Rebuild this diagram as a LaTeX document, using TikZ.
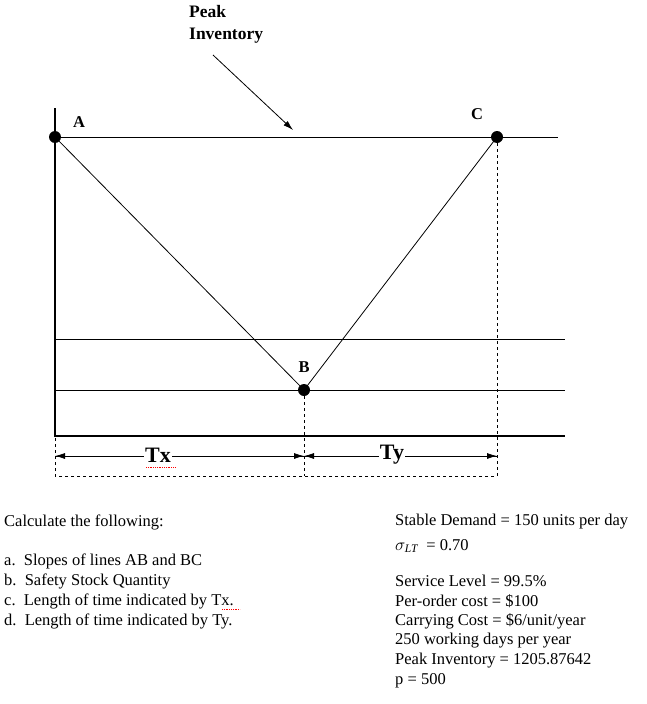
\documentclass[tikz,border=0pt]{standalone}
\usepackage{fontspec}
\setmainfont{Liberation Serif}
\usetikzlibrary{arrows.meta}
\begin{document}
\begin{tikzpicture}[x=1pt,y=-1pt,
  dot/.style={circle,fill=black,inner sep=0pt,minimum size=12pt},
  thin line/.style={line width=0.8pt},
  axis/.style={line width=2.2pt},
  dash line/.style={dashed,line width=0.8pt},
  arr/.style={-{Latex[length=10pt,width=6pt]},line width=0.8pt},
  txt/.style={font=\fontsize{16.5}{19}\selectfont,anchor=west,inner sep=0pt},
  lab/.style={font=\bfseries\fontsize{16.5}{19}\selectfont,inner sep=0pt}]
\useasboundingbox (0,0) rectangle (646,704);
\node[dot] (A) at (55,137) {};
\node[dot] (C) at (497,137) {};
\node[dot] (B) at (304,390) {};
\coordinate (Tend) at (558,137);
\coordinate (ax0) at (55,108);
\coordinate (ax1) at (55,436);
\coordinate (ax2) at (565,436);
\coordinate (h1a) at (55,339); \coordinate (h1b) at (565,339);
\coordinate (h2a) at (55,390); \coordinate (h2b) at (565,390);
\coordinate (dA) at (55,476); \coordinate (dB) at (304,476); \coordinate (dC) at (497,476);
\draw[axis] (ax0) -- (ax1) -- (ax2);
\draw[thin line] (A.center) -- (Tend);
\draw[thin line] (h1a) -- (h1b);
\draw[thin line] (h2a) -- (h2b);
\draw[thin line] (A.center) -- (B.center) -- (C.center);
\draw[dash line] (C.center) -- (dC) -- (dA) -- (ax1);
\draw[dash line] (B.center) -- (dB);
\node[lab] at (79,122) {A};
\node[lab] at (477,114) {C};
\node[lab] at (304,367) {B};
\node[lab,align=left,anchor=north west,font=\bfseries\fontsize{17.5}{22}\selectfont] (peak) at (189,5) {Peak\\Inventory};
\coordinate (pk0) at (213,55); \coordinate (pk1) at (293,130);
\draw[arr] (pk0) -- (pk1);
\coordinate (t0) at (55,456); \coordinate (t1) at (304,456); \coordinate (t2) at (497,456);
\draw[arr] (t1) -- (t0);
\draw[arr] (t0) -- (t1);
\draw[arr] (t2) -- (t1);
\draw[arr] (t1) -- (t2);
\node[lab,font=\bfseries\fontsize{22}{24}\selectfont,fill=white,inner xsep=1pt] (Tx) at (158,455) {Tx};
\node[lab,font=\bfseries\fontsize{22}{24}\selectfont,fill=white,inner xsep=1pt] (Ty) at (392,455) {Ty};
\draw[red,densely dotted,line width=0.8pt] (146,467) -- (176,467);
\node[txt] (q0) at (4,522) {Calculate the following:};
\node[txt] (qa) at (4,561) {a.\ \ Slopes of lines AB and BC};
\node[txt] (qb) at (4,581) {b.\ \ Safety Stock Quantity};
\node[txt] (qc) at (4,601) {c.\ \ Length of time indicated by Tx.};
\node[txt] (qd) at (4,621) {d.\ \ Length of time indicated by Ty.};
\draw[red,densely dotted,line width=0.8pt] (222,609) -- (240,609);
\node[txt] (r0) at (395,522) {Stable Demand = 150 units per day};
\node[txt] (r1) at (395,546) {$\sigma_{\mathit{LT}}$ \ = 0.70};
\node[txt] (r2) at (395,581) {Service Level = 99.5\%};
\node[txt] (r3) at (395,601) {Per-order cost = \$100};
\node[txt] (r4) at (395,621) {Carrying Cost = \$6/unit/year};
\node[txt] (r5) at (395,641) {250 working days per year};
\node[txt] (r6) at (395,661) {Peak Inventory = 1205.87642};
\node[txt] (r7) at (395,681) {p = 500};
\end{tikzpicture}
\end{document}
